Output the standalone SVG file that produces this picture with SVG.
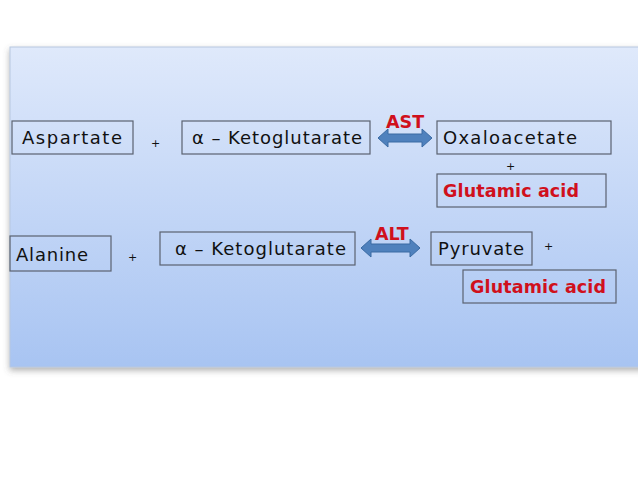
<svg xmlns="http://www.w3.org/2000/svg" width="638" height="478" viewBox="0 0 638 478">
<defs>
<linearGradient id="bg" x1="0" y1="0" x2="0" y2="1"><stop offset="0" stop-color="#dfe9fb"/><stop offset="1" stop-color="#a8c4f2"/></linearGradient>
<filter id="sh" x="-5%" y="-5%" width="110%" height="115%"><feDropShadow dx="0" dy="3" stdDeviation="3" flood-color="#555" flood-opacity="0.45"/></filter>
</defs>
<style>
.b{fill:none;stroke:#5a6270;stroke-width:1.2}
.t{font-family:"DejaVu Sans",sans-serif;font-size:18px;fill:#111}
.r{font-family:"DejaVu Sans",sans-serif;font-size:17.5px;font-weight:bold;fill:#d0101c}
.p{font-family:"DejaVu Sans",sans-serif;font-size:11px;fill:#111}
.a{fill:#4f81bd;stroke:#3a6aa3;stroke-width:1}
</style>
<rect width="638" height="478" fill="#fff"/>
<rect x="10" y="47" width="640" height="320" fill="url(#bg)" stroke="#b8c8e0" filter="url(#sh)"/>
<g id="aspartate"><rect class="b" x="12" y="121" width="121" height="33"/><text class="t" x="22" y="144" textLength="100">Aspartate</text></g>
<text class="p" x="151" y="147">+</text>
<g id="keto1"><rect class="b" x="182" y="121" width="188" height="33"/><text class="t" x="192" y="144" textLength="170">α – Ketoglutarate</text></g>
<g id="oxalo"><rect class="b" x="437" y="121" width="174" height="33"/><text class="t" x="443" y="144" textLength="134">Oxaloacetate</text></g>
<text class="p" x="506" y="170">+</text>
<g id="glu1"><rect class="b" x="437" y="174" width="169" height="33"/><text class="r" x="443" y="197" textLength="136">Glutamic acid</text></g>
<g id="alanine"><rect class="b" x="10" y="236" width="101" height="35"/><text class="t" x="16" y="261" textLength="72">Alanine</text></g>
<text class="p" x="128" y="261">+</text>
<g id="keto2"><rect class="b" x="160" y="232" width="195" height="33"/><text class="t" x="175" y="255" textLength="171">α – Ketoglutarate</text></g>
<g id="pyruvate"><rect class="b" x="431" y="232" width="101" height="33"/><text class="t" x="438" y="255" textLength="86">Pyruvate</text></g>
<text class="p" x="544" y="250">+</text>
<g id="glu2"><rect class="b" x="463" y="270" width="153" height="33"/><text class="r" x="470" y="293" textLength="136">Glutamic acid</text></g>
<g id="connectors">
<path class="a" d="M378,138 l10,-9 v5 h34 v-5 l10,9 l-10,9 v-5 h-34 v5 z"/>
<text class="r" x="386" y="128">AST</text>
<path class="a" d="M361,248 l10,-9 v5 h39 v-5 l10,9 l-10,9 v-5 h-39 v5 z"/>
<text class="r" x="375" y="240">ALT</text>
</g>
</svg>
